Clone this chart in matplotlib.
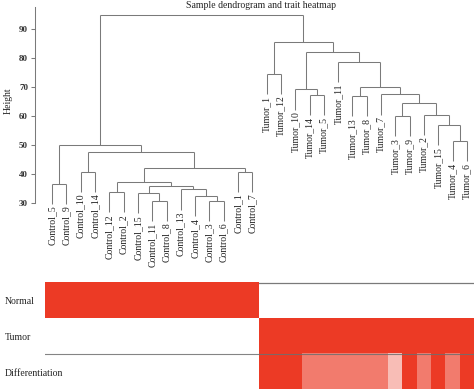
import matplotlib
matplotlib.use("Agg")
import matplotlib.pyplot as plt
import numpy as np
from matplotlib.colors import LinearSegmentedColormap

# ---------------- data ----------------
leaf_order = ["Control_5", "Control_9", "Control_10", "Control_14", "Control_12",
              "Control_2", "Control_15", "Control_11", "Control_8", "Control_13",
              "Control_4", "Control_3", "Control_6", "Control_1", "Control_7",
              "Tumor_1", "Tumor_12", "Tumor_10", "Tumor_14", "Tumor_5",
              "Tumor_11", "Tumor_13", "Tumor_8", "Tumor_7", "Tumor_3",
              "Tumor_9", "Tumor_2", "Tumor_15", "Tumor_4", "Tumor_6"]

# (cluster id, left child, right child, merge height)
merges = [
    ("c1", "Control_11", "Control_8", 30.9),
    ("c2", "Control_3", "Control_6", 30.9),
    ("c3", "Control_4", "c2", 32.5),
    ("c4", "Control_12", "Control_2", 33.9),
    ("c5", "Control_15", "c1", 33.6),
    ("c6", "Control_13", "c3", 34.8),
    ("c7", "c5", "c6", 36.0),
    ("c8", "Control_5", "Control_9", 36.8),
    ("c9", "c4", "c7", 37.4),
    ("c10", "Control_10", "Control_14", 40.9),
    ("c11", "Control_1", "Control_7", 40.9),
    ("c12", "c9", "c11", 42.3),
    ("c13", "c10", "c12", 47.8),
    ("c14", "c8", "c13", 50.2),
    ("t1", "Tumor_4", "Tumor_6", 51.6),
    ("t2", "Tumor_15", "t1", 57.0),
    ("t3", "Tumor_2", "t2", 60.6),
    ("t4", "Tumor_3", "Tumor_9", 60.2),
    ("t5", "t4", "t3", 64.7),
    ("t6", "Tumor_7", "t5", 67.6),
    ("t7", "Tumor_13", "Tumor_8", 67.0),
    ("t8", "t7", "t6", 70.2),
    ("t9", "Tumor_11", "t8", 78.8),
    ("t10", "Tumor_14", "Tumor_5", 67.3),
    ("t11", "Tumor_10", "t10", 69.3),
    ("t12", "t11", "t9", 82.3),
    ("t13", "Tumor_1", "Tumor_12", 74.7),
    ("t14", "t13", "t12", 85.7),
    ("root", "c14", "t14", 94.8),
]

trait_names = ["Normal", "Tumor", "Differentiation"]
normal_trait = [1, 1, 1, 1, 1, 1, 1, 1, 1, 1, 1, 1, 1, 1, 1,
                0, 0, 0, 0, 0, 0, 0, 0, 0, 0, 0, 0, 0, 0, 0]
tumor_trait = [0, 0, 0, 0, 0, 0, 0, 0, 0, 0, 0, 0, 0, 0, 0,
               1, 1, 1, 1, 1, 1, 1, 1, 1, 1, 1, 1, 1, 1, 1]
differentiation_trait = [0, 0, 0, 0, 0, 0, 0, 0, 0, 0, 0, 0, 0, 0, 0,
                         3, 3, 3, 2, 2, 2, 2, 2, 2, 1, 3, 2, 3, 2, 3]

y_ticks = [30, 40, 50, 60, 70, 80, 90]

# ---------------- style ----------------
FONT = ["Liberation Serif", "DejaVu Serif"]
plt.rcParams["font.family"] = FONT
LINE = "#7a7a7a"
RED = "#ec3a25"
hang = 7.0

W, H = 474, 389
fig = plt.figure(figsize=(W / 100, H / 100), dpi=100)

# dendrogram axes
left_px, right_px = 45, 474
top_px, bot_px = 7, 230
px_per_unit = 2.9
v_at = lambda ypx: 30 + (203.3 - ypx) / px_per_unit
ax = fig.add_axes([left_px / W, 1 - bot_px / H, (right_px - left_px) / W, (bot_px - top_px) / H])
ax.set_xlim(-0.5, len(leaf_order) - 0.5)
ax.set_ylim(v_at(bot_px), v_at(top_px))

pos = {name: float(i) for i, name in enumerate(leaf_order)}
hgt = {}
for cid, l, r, h in merges:
    xl, xr = pos[l], pos[r]
    for child, xc in ((l, xl), (r, xr)):
        if child in hgt:
            y0 = hgt[child]
        else:
            y0 = h - hang
            ax.text(xc, y0 - 0.6, child, rotation=90, ha="center", va="top",
                    fontsize=7, color="#222222", clip_on=False)
        ax.plot([xc, xc], [y0, h], color=LINE, lw=0.75, solid_capstyle="butt")
    ax.plot([xl, xr], [h, h], color=LINE, lw=0.75, solid_capstyle="butt")
    pos[cid] = (xl + xr) / 2
    hgt[cid] = h

for s in ("top", "right", "bottom"):
    ax.spines[s].set_visible(False)
ax.spines["left"].set_position(("outward", 7.2))
ax.spines["left"].set_bounds(30, v_at(top_px))
ax.spines["left"].set_color(LINE)
ax.spines["left"].set_linewidth(0.75)
ax.set_xticks([])
ax.set_yticks(y_ticks)
ax.set_yticklabels([str(t) for t in y_ticks], fontsize=6.5, fontweight="bold", color="#333333")
ax.tick_params(axis="y", length=3, width=0.75, color=LINE, pad=2)
ax.patch.set_alpha(0)

fig.text(8 / W, 1 - 101 / H, "Height", rotation=90, ha="center", va="center",
         fontsize=7, color="#222222")
fig.text(261 / W, 1 - 6 / H, "Sample dendrogram and trait heatmap", ha="center",
         va="center", fontsize=7, color="#222222")

# trait heatmap
hm_top = 282
hax = fig.add_axes([left_px / W, 0, (right_px - left_px) / W, (H - hm_top) / H])
cmap = LinearSegmentedColormap.from_list("wr", ["#ffffff", RED])
rows = [normal_trait, tumor_trait, differentiation_trait]
rgb = np.array([[cmap(v / max(row)) for v in row] for row in rows])
rgb[..., 3] = np.where(np.array(rows) == 0, 0.0, 1.0)  # white cells see-through
hax.imshow(rgb, aspect="auto", interpolation="nearest",
           extent=(-0.5, len(leaf_order) - 0.5, 3.0, 0.0), zorder=2)
hax.set_xlim(-0.5, len(leaf_order) - 0.5)
hax.axhline(0.0, color=LINE, lw=0.9, zorder=1)
hax.axhline(2.0, color="#6f6f6f", lw=0.8, zorder=3, alpha=0.85)
hax.axis("off")
hax.set_ylim(3.0, -0.02)

row_px = [301, 337, 374]
for name, yp in zip(trait_names, row_px):
    fig.text(5 / W, 1 - yp / H, name, ha="left", va="center", fontsize=7, color="#222222")

fig.savefig("out.png", dpi=100)
